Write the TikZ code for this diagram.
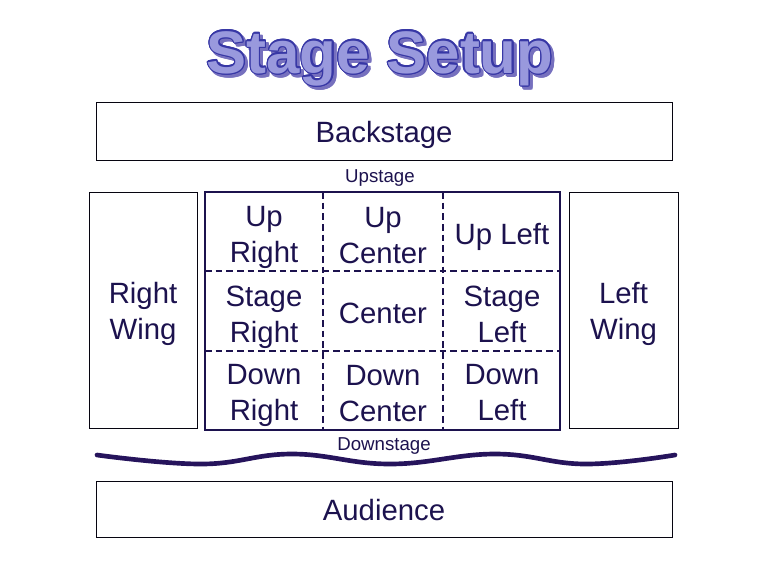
\documentclass[tikz,border=0pt]{standalone}
\usepackage{fontspec}
\setmainfont{Liberation Sans}
\definecolor{navy}{RGB}{28,18,78}
\definecolor{wavecol}{RGB}{38,20,92}
\definecolor{titlefill}{RGB}{153,153,221}
\definecolor{titleline}{RGB}{55,55,165}
\definecolor{titleshade}{RGB}{118,112,190}
\newcommand{\stagetitle}{\fontsize{45}{50}\selectfont\bfseries Stage Setup}
\tikzset{
  area/.style={draw=black!80!navy,line width=0.75pt,inner sep=0pt},
  cell/.style={text=navy,font=\fontsize{22}{27}\selectfont,align=center},
  small/.style={text=navy,font=\fontsize{14}{16}\selectfont},
  gridline/.style={navy,line width=1.5pt,dash pattern=on 5pt off 3pt},
}
\begin{document}
\begin{tikzpicture}[x=0.75pt,y=-0.75pt]
    \useasboundingbox (0,0) rectangle (768,576);

    % title with shadow and outline
    \foreach \a in {0,30,...,330}
      \node[anchor=base,text=titleshade,shift={(\a:1.3)}] at (383,76) {\stagetitle};
    \foreach \a in {0,22.5,...,337.5}
      \node[anchor=base,text=titleline,shift={(\a:1.3)}] at (380,73) {\stagetitle};
    \node[anchor=base,text=titlefill] (title) at (380,73) {\stagetitle};

    \node[area,minimum width=432pt,minimum height=43.5pt,
      label={[cell,yshift=-3pt]center:Backstage}] (backstage) at (384,131) {};
    \node[small] (upstage) at (380,178) {Upstage};

    \node[area,minimum width=81pt,minimum height=177pt,
      label={[cell,yshift=-3pt]center:Right\\Wing}] (rightwing) at (143,310) {};
    \node[area,minimum width=81.75pt,minimum height=177pt,
      label={[cell,yshift=-3pt]center:Left\\Wing}] (leftwing) at (623.5,310) {};

    \node[draw=navy,line width=1.6pt,minimum width=266.25pt,minimum height=178.5pt] (stage) at (382.5,311) {};
    \draw[gridline] (323,192) -- (323,430);
    \draw[gridline] (443,192) -- (443,430);
    \draw[gridline] (205,271) -- (560,271);
    \draw[gridline] (205,351) -- (560,351);

    \node[cell] (ur) at (264,237.5) {Up\\Right};
    \node[cell] (uc) at (383,236) {Up\\Center};
    \node[cell] (ul) at (502,237) {Up Left};
    \node[cell] (sr) at (264,317) {Stage\\Right};
    \node[cell] (cc) at (383,313) {Center};
    \node[cell] (sl) at (502,314) {Stage\\Left};
    \node[cell] (dr) at (264,395) {Down\\Right};
    \node[cell] (dc) at (383,394) {Down\\Center};
    \node[cell] (dl) at (502,393) {Down\\Left};

    \node[small] (downstage) at (384,446) {Downstage};
    \draw[wavecol,line width=3.5pt,line cap=round] plot[smooth,tension=0.7] coordinates
      {(97,455) (202,464) (292,454) (390,464) (495,454) (585,464) (675,455)};

    \node[area,minimum width=432pt,minimum height=42pt,
      label={[cell,yshift=-0.75pt]center:Audience}] (audience) at (384,509) {};
\end{tikzpicture}
\end{document}
